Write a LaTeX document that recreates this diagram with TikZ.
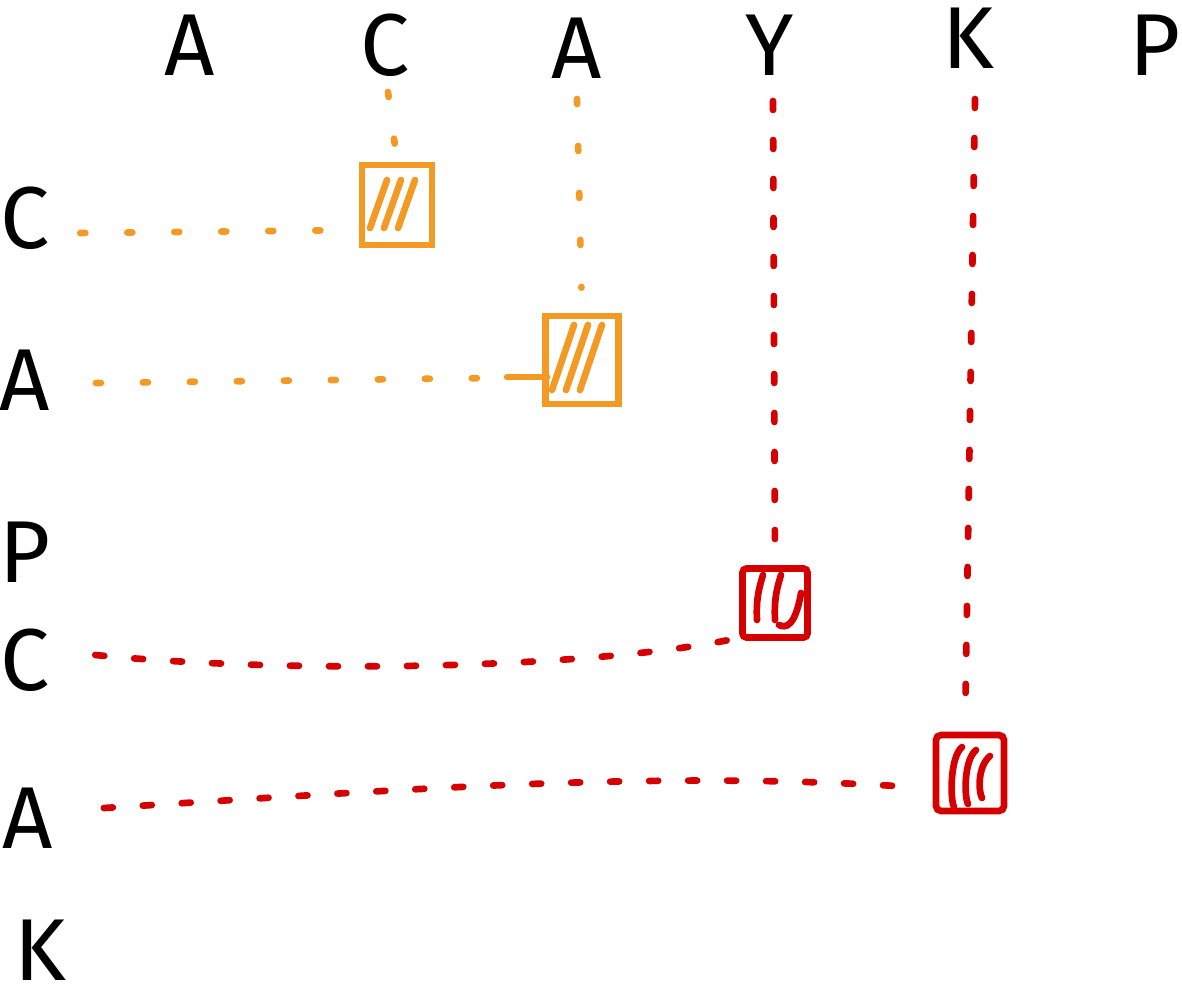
\documentclass[tikz,border=0pt]{standalone}
\usepackage{fontspec}
\setmainfont{Fira Sans}
\usepackage{tikz}
\usetikzlibrary{arrows.meta,calc}
\definecolor{hlorange}{HTML}{F39A25}
\definecolor{hlred}{HTML}{D50000}
\tikzset{
  letter/.style={inner sep=0pt,font=\fontsize{25}{28}\selectfont},
  cellbox/.style={draw,line width=1.9pt,inner sep=0pt},
  dotline/.style={hlorange,line width=1.9pt,line cap=round,dash pattern=on 0.5mm off 4.2mm},
  dashline/.style={hlred,line width=1.9pt,line cap=round,dash pattern=on 0.9mm off 3mm},
  hatch/.style={line width=1.9pt,line cap=round}
}
\begin{document}
\begin{tikzpicture}[x=0.1mm,y=-0.1mm]
			\useasboundingbox (0,0) rectangle (1182,1000);
			% letters of the two words
			\node[letter] (c1) at (190,45) {A};
			\node[letter] (c2) at (385,45) {C};
			\node[letter] (c3) at (577,48) {A};
			\node[letter] (c4) at (770,45) {Y};
			\node[letter] (c5) at (968,38) {K};
			\node[letter] (c6) at (1155,45) {P};
			\node[letter] (r1) at (25,218) {C};
			\node[letter] (r2) at (25,380) {A};
			\node[letter] (r3) at (25,552) {P};
			\node[letter] (r4) at (25,660) {C};
			\node[letter] (r5) at (28,818) {A};
			\node[letter] (r6) at (40,950) {K};
			% matching cells
			\node[cellbox,hlorange,minimum width=7mm,minimum height=8mm] (m1) at (397,205) {};
			\node[cellbox,hlorange,minimum width=7.3mm,minimum height=8.8mm] (m2) at (582,360) {};
			\node[cellbox,hlred,minimum width=6.5mm,minimum height=6.9mm,rounded corners=0.4mm] (m3) at (775,603) {};
			\node[cellbox,hlred,minimum width=6.8mm,minimum height=7.6mm,rounded corners=0.5mm] (m4) at (970,773) {};
			% hatching
			\foreach \dx in {-10,4,18}{
				\draw[hatch,hlorange] ($(m1.center)+(\dx,-25)$) -- ++(-17,48);
				\draw[hatch,hlorange] ($(m2.center)+(\dx+2,-35)$) -- ++(-22,65);
			}
			\foreach \dx in {-12,6}{
				\draw[hatch,hlred] ($(m3.center)+(\dx,-28)$) to[bend right=10] ++(-6,45);
			}
			\draw[hatch,hlred] ($(m3.center)+(26,-10)$) .. controls ($(m3.center)+(20,25)$) and ($(m3.center)+(10,25)$) .. ($(m3.center)+(4,22)$);
			\foreach \dx/\h in {-14/52,0/46,14/34}{
				\draw[hatch,hlred] ($(m4.center)+(\dx+6,-\h/2)$) .. controls ($(m4.center)+(\dx-6,-\h/2+10)$) and ($(m4.center)+(\dx-6,\h/2)$) .. ($(m4.center)+(\dx-2,\h/2+8)$);
			}
			% orange paths
			\draw[dotline] ($(c2.south)+(3,15)$) -- (m1.north);
			\draw[dotline,shorten >=2.5mm] ($(c3.south)+(0,20)$) -- (m2.north);
			\draw[dotline] ($(r1.east)+(30,15)$) -- ($(m1.west)+(0,25)$);
			\draw[dotline] ($(r2.east)+(45,3)$) -- ($(m2.west)+(-52,18)$);
			\draw[hatch,hlorange] ($(m2.west)+(-35,17)$) -- ($(m2.west)+(5,17)$);
			% red paths
			\draw[dashline,shorten >=1.2mm] ($(c4.south)+(3,25)$) -- (m3.north);
			\draw[dashline,shorten >=2.5mm] ($(c5.south)+(7,30)$) -- ($(m4.north)+(-5,0)$);
			\draw[dashline] ($(r4.east)+(45,-5)$) .. controls (300,675) and (600,668) .. ($(m3.south west)+(0,-3)$);
			\draw[dashline] ($(r5.east)+(50,-10)$) .. controls (400,790) and (650,770) .. ($(m4.west)+(-20,14)$);
		\end{tikzpicture}
\end{document}
